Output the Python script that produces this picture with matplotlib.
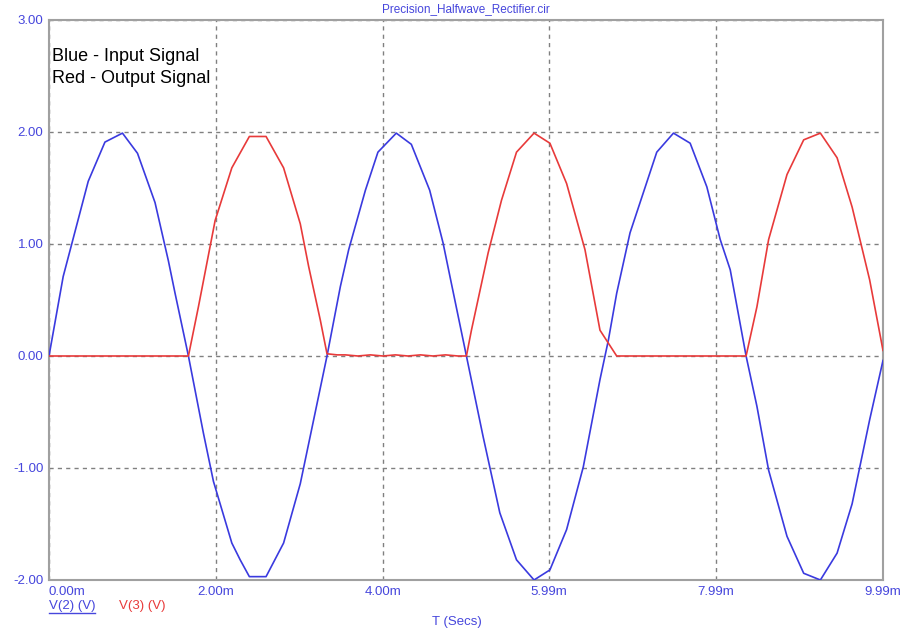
import numpy as np
import matplotlib.pyplot as plt

plt.rcParams['font.family'] = ['Liberation Sans', 'DejaVu Sans']

# time in ms, values in volts
t_in = [0.00, 0.17, 0.47, 0.67, 0.88, 1.06, 1.27, 1.43, 1.51, 1.67, 1.85, 1.97,
        2.19, 2.29, 2.40, 2.60, 2.81, 3.01, 3.33, 3.49, 3.59, 3.79, 3.94, 4.16,
        4.34, 4.56, 4.72, 4.80, 5.00, 5.20, 5.40, 5.60, 5.81, 6.00, 6.20, 6.40,
        6.60, 6.70, 6.80, 6.96, 7.28, 7.48, 7.68, 7.88, 8.04, 8.16, 8.35, 8.48,
        8.62, 8.84, 9.04, 9.24, 9.44, 9.62, 9.83, 9.99]
v_in = [0.00, 0.71, 1.56, 1.91, 1.99, 1.81, 1.37, 0.85, 0.56, 0.00, -0.69, -1.12,
        -1.67, -1.82, -1.97, -1.97, -1.67, -1.14, 0.00, 0.62, 0.95, 1.48, 1.82, 1.99,
        1.89, 1.48, 1.01, 0.72, 0.00, -0.72, -1.40, -1.82, -2.00, -1.91, -1.55, -0.99,
        -0.21, 0.14, 0.56, 1.10, 1.82, 1.99, 1.90, 1.51, 1.04, 0.77, 0.00, -0.45,
        -1.02, -1.61, -1.94, -2.00, -1.76, -1.32, -0.57, -0.04]

t_out = [0.00, 1.67, 1.79, 1.99, 2.19, 2.40, 2.60, 2.81, 3.01, 3.11, 3.25, 3.33,
         3.45, 3.55, 3.70, 3.85, 4.00, 4.15, 4.30, 4.45, 4.60, 4.75, 4.90, 5.00,
         5.06, 5.26, 5.42, 5.60, 5.81, 6.00, 6.20, 6.42, 6.60, 6.80, 8.35, 8.48,
         8.62, 8.84, 9.04, 9.24, 9.44, 9.62, 9.83, 9.99]
v_out = [0.00, 0.00, 0.44, 1.21, 1.68, 1.96, 1.96, 1.68, 1.18, 0.80, 0.32, 0.02,
         0.01, 0.01, 0.00, 0.01, 0.00, 0.01, 0.00, 0.01, 0.00, 0.01, 0.00, 0.00,
         0.23, 0.92, 1.39, 1.82, 1.99, 1.90, 1.54, 0.95, 0.23, 0.00, 0.00, 0.44,
         1.04, 1.62, 1.93, 1.99, 1.77, 1.33, 0.68, 0.05]

xticks = [0.0, 2.0, 4.0, 5.99, 7.99, 9.99]
xlabels = ['0.00m', '2.00m', '4.00m', '5.99m', '7.99m', '9.99m']
yticks = [-2, -1, 0, 1, 2, 3]
ylabels = ['-2.00', '-1.00', '0.00', '1.00', '2.00', '3.00']

blue = '#3a3adf'
red = '#e83a3a'
lab_blue = '#4646dc'

fig = plt.figure(figsize=(9.12, 6.33), dpi=100)
ax = fig.add_axes([49/912, 53/633, 834/912, 560/633])

ax.plot(t_in, v_in, color=blue, lw=1.2, zorder=3)
ax.plot(t_out, v_out, color=red, lw=1.2, zorder=4)

ax.set_xlim(0, 9.99)
ax.set_ylim(-2, 3)
ax.set_xticks(xticks)
ax.set_xticklabels(xlabels)
ax.set_yticks(yticks)
ax.set_yticklabels(ylabels)
ax.tick_params(length=0, labelsize=9.5, labelcolor=lab_blue, pad=4)
ax.get_xticklabels()[0].set_horizontalalignment('left')
ax.grid(True, color='#808080', linestyle=(0, (3, 3)), lw=1)
for s in ax.spines.values():
    s.set_color('#a0a0a0')
    s.set_linewidth(1.5)

# annotation text in the upper left corner
ax.text(0.003, 0.934, 'Blue - Input Signal', transform=ax.transAxes,
        fontsize=13, color='black', va='center', ha='left')
ax.text(0.003, 0.896, 'Red - Output Signal', transform=ax.transAxes,
        fontsize=13, color='black', va='center', ha='left')

fig.text(466/912, 1 - 9/633, 'Precision_Halfwave_Rectifier.cir', ha='center', va='center',
         fontsize=8.5, color=lab_blue)
fig.text(457/912, 1 - 622/633, 'T (Secs)', ha='center', va='center', fontsize=9.5, color=lab_blue)
fig.text(49/912, 1 - 606/633, 'V(2) (V)', ha='left', va='center', fontsize=9.5, color=lab_blue)
fig.add_artist(plt.Line2D([49/912, 95/912], [1 - 613/633, 1 - 613/633], color=lab_blue, lw=1))
fig.text(119/912, 1 - 606/633, 'V(3) (V)', ha='left', va='center', fontsize=9.5, color=red)

fig.savefig('out.png', dpi=100)
